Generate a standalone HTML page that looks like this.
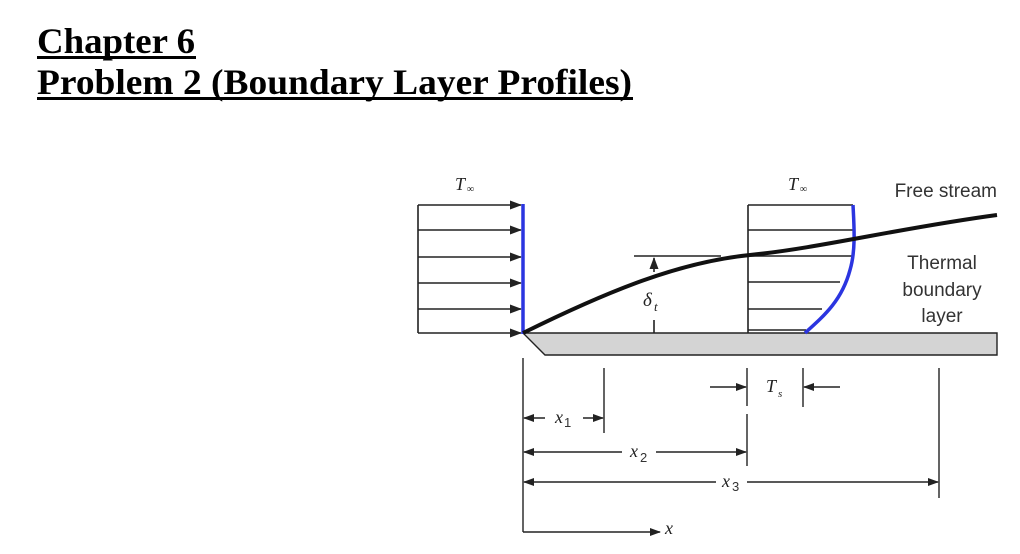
<!DOCTYPE html>
<html><head><meta charset="utf-8"><style>
html,body{margin:0;padding:0;background:#fff;}
svg{display:block;}
.t{font-family:"Liberation Serif","Times New Roman",serif;font-weight:bold;}
</style></head><body>
<svg width="1020" height="554" viewBox="0 0 1020 554" xmlns="http://www.w3.org/2000/svg">
<defs>
<marker id="ah" markerWidth="12" markerHeight="9" refX="11" refY="4.5" orient="auto" markerUnits="userSpaceOnUse">
<path d="M0,0 L12,4.5 L0,9 z" fill="#222"/>
</marker>
<marker id="as" markerWidth="11" markerHeight="8" refX="10" refY="4" orient="auto" markerUnits="userSpaceOnUse">
<path d="M0,0 L11,4 L0,8 z" fill="#222"/>
</marker>
</defs>
<!-- Title -->
<g class="t" font-size="36" fill="#000">
<text x="37" y="53" textLength="158" lengthAdjust="spacingAndGlyphs">Chapter 6</text>
<text x="37" y="94" textLength="595" lengthAdjust="spacingAndGlyphs">Problem 2 (Boundary Layer Profiles)</text>
</g>
<rect x="37" y="56" width="159" height="3" fill="#000"/>
<rect x="37" y="97" width="596" height="3" fill="#000"/>

<g stroke="#222" stroke-width="1.6" fill="none">
<line x1="418" y1="205" x2="418" y2="333"/>
<line x1="418" y1="205" x2="521" y2="205" marker-end="url(#ah)"/>
<line x1="418" y1="230" x2="521" y2="230" marker-end="url(#ah)"/>
<line x1="418" y1="257" x2="521" y2="257" marker-end="url(#ah)"/>
<line x1="418" y1="283" x2="521" y2="283" marker-end="url(#ah)"/>
<line x1="418" y1="309" x2="521" y2="309" marker-end="url(#ah)"/>
<line x1="418" y1="333" x2="521" y2="333" marker-end="url(#ah)"/>
<line x1="748" y1="205" x2="748" y2="333"/>
<line x1="748" y1="205" x2="853" y2="205"/>
<line x1="748" y1="230" x2="853" y2="230"/>
<line x1="748" y1="256" x2="853" y2="256"/>
<line x1="748" y1="282" x2="840" y2="282"/>
<line x1="748" y1="309" x2="822" y2="309"/>
<line x1="748" y1="330" x2="806" y2="330"/>
<line x1="634" y1="256" x2="721" y2="256"/>
<line x1="654" y1="272" x2="654" y2="258" marker-end="url(#ah)"/>
<line x1="654" y1="320" x2="654" y2="333"/>
</g>
<polygon points="523,333 997,333 997,355 545,355" fill="#d4d4d4" stroke="#222" stroke-width="1.4"/>
<line x1="523" y1="204" x2="523" y2="334" stroke="#2b35e0" stroke-width="3.5"/>
<path d="M853,205 C854,225 856,250 850,270 C842,300 825,315 805,333" stroke="#2b35e0" stroke-width="3.5" fill="none"/>
<path d="M523,333 C610,290 680,262 750,255 S900,228 997,215" stroke="#111" stroke-width="4" fill="none"/>

<g font-family="'Liberation Serif',serif" font-style="italic" fill="#222">
<text x="455" y="190" font-size="18">T</text><text x="467" y="192" font-size="10">∞</text>
<text x="788" y="190" font-size="18">T</text><text x="800" y="192" font-size="10">∞</text>
<text x="643" y="306" font-size="19">δ</text><text x="654" y="311" font-size="13">t</text>
<text x="766" y="392" font-size="18">T</text><text x="778" y="397" font-size="11">s</text>
<text x="555" y="423" font-size="18">x</text>
<text x="630" y="457" font-size="18">x</text>
<text x="722" y="487" font-size="18">x</text>
<text x="665" y="534" font-size="18">x</text>
</g>
<g font-family="'Liberation Sans',sans-serif" fill="#333">
<text x="564" y="427" font-size="13">1</text>
<text x="640" y="462" font-size="13">2</text>
<text x="732" y="491" font-size="13">3</text>
<text x="997" y="197" font-size="19" text-anchor="end">Free stream</text>
<text x="942" y="269" font-size="19" text-anchor="middle">Thermal</text>
<text x="942" y="296" font-size="19" text-anchor="middle">boundary</text>
<text x="942" y="322" font-size="19" text-anchor="middle">layer</text>
</g>

<g stroke="#222" stroke-width="1.4" fill="none">
<line x1="523" y1="358" x2="523" y2="532"/>
<line x1="523" y1="532" x2="660" y2="532" marker-end="url(#as)"/>
<line x1="604" y1="368" x2="604" y2="433"/>
<line x1="747" y1="368" x2="747" y2="406"/>
<line x1="747" y1="414" x2="747" y2="466"/>
<line x1="803" y1="368" x2="803" y2="407"/>
<line x1="939" y1="368" x2="939" y2="498"/>
<line x1="710" y1="387" x2="746" y2="387" marker-end="url(#as)"/>
<line x1="840" y1="387" x2="804" y2="387" marker-end="url(#as)"/>
<line x1="545" y1="418" x2="524" y2="418" marker-end="url(#as)"/>
<line x1="583" y1="418" x2="603" y2="418" marker-end="url(#as)"/>
<line x1="622" y1="452" x2="524" y2="452" marker-end="url(#as)"/>
<line x1="656" y1="452" x2="746" y2="452" marker-end="url(#as)"/>
<line x1="716" y1="482" x2="524" y2="482" marker-end="url(#as)"/>
<line x1="747" y1="482" x2="938" y2="482" marker-end="url(#as)"/>
</g>
</svg>
</body></html>
